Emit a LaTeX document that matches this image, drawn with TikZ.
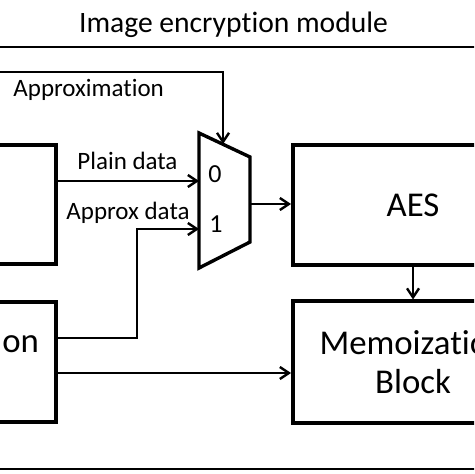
\documentclass[tikz,border=0pt]{standalone}
\usepackage{fontspec}
\setmainfont{Carlito}[Ligatures=NoCommon]
\usetikzlibrary{arrows.meta}

\tikzset{
	blk/.style={draw, line width=2pt, minimum width=120pt, inner sep=0pt, font=\fontsize{17.4}{19.5}\selectfont, align=center},
	arr/.style={line width=1.2pt, -{Straight Barb[length=4.5pt,width=6pt,line width=1.2pt]}},
	wire/.style={line width=1.2pt},
	lbl/.style={anchor=base west, inner sep=0pt, font=\fontsize{12.5}{14}\selectfont}
}

\begin{document}
\begin{tikzpicture}[x=0.5pt,y=-0.5pt]
	\useasboundingbox (0,0) rectangle (474,474);
	\clip (0,0) rectangle (474,474);
	% module frame and title
	\node[anchor=base, inner sep=0pt, font=\fontsize{14.8}{16}\selectfont] (title) at (233.5,32.7) {Image encryption module};
	\draw[line width=1.1pt] (-10,47) rectangle (484,469);
	% blocks
	\node[blk, minimum width=78pt, minimum height=59.5pt] (src) at (-22,204.5) {};
	\node[blk, minimum width=78pt, minimum height=60pt] (low) at (-22,362) {};
	\node[anchor=base west, inner sep=0pt, font=\fontsize{17.4}{19.5}\selectfont] (lowtxt) at (2,352) {on};
	\node[blk, minimum height=60pt] (aes) at (413,205) {AES};
	\node[blk, minimum height=60.5pt] (memo) at (413,362) {Memoization\\Block};
	% mux
	\draw[line width=1.7pt, line join=miter] (199,133) coordinate (mtl) -- (250,157) coordinate (mtr)
		-- (250,242) coordinate (mbr) -- (199,268) coordinate (mbl) -- cycle;
	\coordinate (in0) at (199,181);
	\coordinate (in1) at (199,229);
	\coordinate (muxout) at (250,204);
	\coordinate (sel) at (223,144);
	\coordinate (apx) at (-10,72);
	\node[lbl, font=\fontsize{13}{14}\selectfont] (zero) at (208,183) {0};
	\node[lbl, font=\fontsize{13}{14}\selectfont] (one) at (209,233) {1};
	% connectors
	\draw[arr] (apx) -| (sel);
	\node[lbl] (apxlbl) at (13,97) {Approximation};
	\draw[arr] (src.east |- in0) -- (in0);
	\node[lbl] (plainlbl) at (77,170) {Plain data};
	\draw[arr] (low.east |- 0,338) -| (137,229) -- (in1);
	\node[lbl] (approxlbl) at (66,220) {Approx data};
	\draw[arr] (muxout) -- (aes.west |- muxout);
	\draw[arr] (aes.south) -- (memo.north);
	\draw[arr] (low.east |- 0,373) -- (memo.west |- 0,373);
\end{tikzpicture}
\end{document}
